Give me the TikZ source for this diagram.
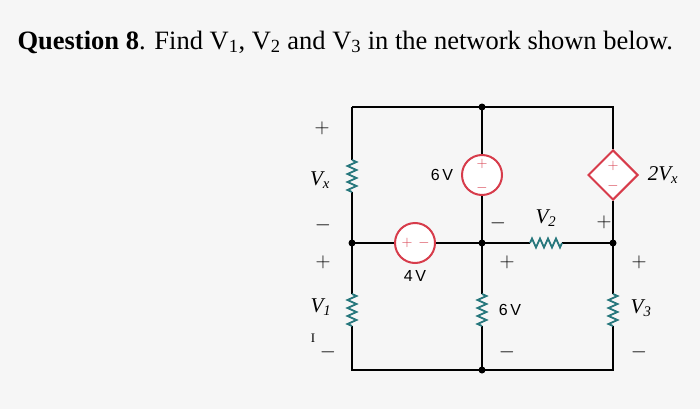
\documentclass[tikz,border=0pt]{standalone}
\usepackage{fontspec}
\setmainfont{Liberation Serif}
\newfontfamily\labfont{Liberation Sans}
\usetikzlibrary{shapes.geometric,decorations.pathmorphing}
\definecolor{srcred}{RGB}{215,60,75}
\definecolor{resteal}{RGB}{40,120,125}
\tikzset{
  wire/.style={line width=2.4pt, black},
  res/.style={line width=1.8pt, resteal, decorate,
    decoration={zigzag, segment length=8pt, amplitude=4.5pt}},
  src/.style={circle, draw=srcred, line width=2pt, fill=white, minimum size=40pt, inner sep=0pt},
  dsrc/.style={diamond, draw=srcred, line width=2pt, fill=white, minimum size=50pt, inner sep=0pt},
  dot/.style={circle, fill=black, minimum size=7pt, inner sep=0pt},
  sgn/.style={font=\fontsize{20}{20}\selectfont},
  isgn/.style={font=\fontsize{15}{15}\selectfont, srcred, inner sep=0pt},
  lab/.style={font=\fontsize{21}{21}\selectfont\itshape},
  vlab/.style={font=\fontsize{16}{16}\labfont},
}
\begin{document}
\begin{tikzpicture}[x=1pt, y=-1pt]
  \useasboundingbox[fill=gray!7] (0,0) rectangle (700,409);

  % Titel
  \node[anchor=west, font=\fontsize{26.5}{26.5}\selectfont] (title) at (14,42)
    {\textbf{Question 8}. Find V\textsubscript{1}, V\textsubscript{2} and V\textsubscript{3} in the network shown below.};

  % Knoten
  \coordinate (TL) at (352,107); \coordinate (TM) at (482,107); \coordinate (TR) at (613,107);
  \coordinate (ML) at (352,243); \coordinate (MM) at (482,243); \coordinate (MR) at (613,243);
  \coordinate (BL) at (352,370); \coordinate (BM) at (482,370); \coordinate (BR) at (613,370);

  % Widerstaende
  \coordinate (rx1) at (352,160); \coordinate (rx2) at (352,192);
  \coordinate (r11) at (352,294); \coordinate (r12) at (352,326);
  \coordinate (r61) at (482,294); \coordinate (r62) at (482,326);
  \coordinate (r31) at (613,294); \coordinate (r32) at (613,326);
  \coordinate (r21) at (530,243); \coordinate (r22) at (562,243);

  % Quellen
  \node[src] (s6) at (482,175) {};
  \node[src] (s4) at (415,243) {};
  \node[dsrc] (sd) at (613,175) {};

  % Leitungen
  \draw[wire] (TL) -- (TR) -- (sd.north);
  \draw[wire] (sd.south) -- (MR) -- (r31);
  \draw[wire] (r32) -- (BR) -- (BL) -- (r12);
  \draw[wire] (r11) -- (ML) -- (rx2);
  \draw[wire] (rx1) -- (TL);
  \draw[wire] (TM) -- (s6.north);
  \draw[wire] (s6.south) -- (MM) -- (r61);
  \draw[wire] (r62) -- (BM);
  \draw[wire] (ML) -- (s4.west);
  \draw[wire] (s4.east) -- (MM) -- (r21);
  \draw[wire] (r22) -- (MR);
  \foreach \a/\b in {rx1/rx2, r11/r12, r61/r62, r31/r32, r21/r22}
    \draw[res] (\a) -- (\b);

  % Punkte
  \foreach \p in {TM, ML, MM, MR, BM}
    \node[dot] at (\p) {};

  % Vorzeichen in den Quellen
  \node[isgn] (s6p) at (482,164) {$+$};
  \node[isgn] (s6m) at (482,188) {$-$};
  \node[isgn] (s4p) at (407,243) {$+$};
  \node[isgn] (s4m) at (424,243) {$-$};
  \node[isgn] (sdp) at (613,166) {$+$};
  \node[isgn] (sdm) at (613,186) {$-$};

  % Beschriftungen
  \node[sgn] (px) at (322,128) {$+$};
  \node[lab] (vx) at (320,180) {V\textsubscript{\textit{x}}};
  \node[sgn] (mx) at (323,225) {$-$};
  \node[sgn] (p1) at (323,262) {$+$};
  \node[lab] (v1) at (321,307) {V\textsubscript{1}};
  \node[sgn] (m1) at (328,352) {$-$};
  \node[font=\fontsize{13}{13}\selectfont] (cur) at (313,338) {I};
  \node[vlab] (l6a) at (442,175) {6\,V};
  \node[vlab] (l4) at (415,276) {4\,V};
  \node[vlab] (l6b) at (510,310) {6\,V};
  \node[lab] (l2vx) at (663,175) {2V\textsubscript{\textit{x}}};
  \node[sgn] (m6) at (498,223) {$-$};
  \node[lab] (v2) at (546,218) {V\textsubscript{2}};
  \node[sgn] (p2) at (604,222) {$+$};
  \node[sgn] (p6) at (507,262) {$+$};
  \node[sgn] (m6b) at (507,352) {$-$};
  \node[sgn] (p3) at (639,262) {$+$};
  \node[lab] (v3) at (641,308) {V\textsubscript{3}};
  \node[sgn] (m3) at (639,352) {$-$};
\end{tikzpicture}
\end{document}
